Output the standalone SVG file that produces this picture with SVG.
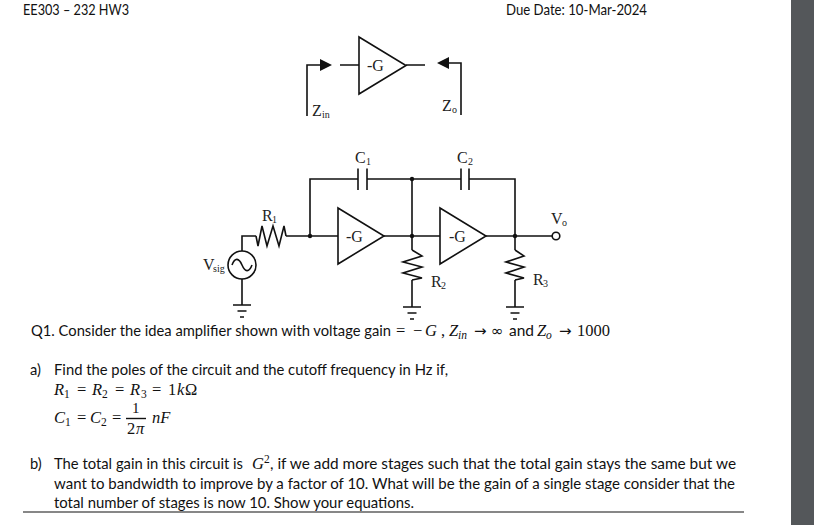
<svg xmlns="http://www.w3.org/2000/svg" width="814" height="525" viewBox="0 0 814 525">
<style>
.w{fill:none;stroke:#111;stroke-width:1.6}
.a{fill:#fff;stroke:#111;stroke-width:1.6}
.d{fill:#111}
.h{fill:#111;stroke:none}
.s{font-family:"Liberation Serif",serif;font-size:16px;fill:#222}
.u{font-family:"Liberation Serif",serif;font-size:10px;fill:#222}
.t{font-family:Lato,"Noto Sans",sans-serif;font-size:14.7px;fill:#111}
.m{font-family:"Liberation Serif",serif;font-size:16.5px;fill:#111}
.y{font-family:"DejaVu Sans",sans-serif;font-size:15px;fill:#111}
.i{font-style:italic}
.b{font-family:"Liberation Serif",serif;font-size:11.5px;fill:#111}
</style>
<defs>
<g id="gnd"><path class="w" d="M-9 0H9M-4.500 6H4.500M-2 12H2"/></g>
</defs>
<rect width="814" height="525" fill="#fff"/>
<rect x="791" width="23" height="525" fill="#54575a"/>

<g id="header">
<text class="t" x="23" y="15" textLength="106" lengthAdjust="spacingAndGlyphs">EE303 – 232 HW3</text>
<text class="t" x="506" y="15" textLength="141" lengthAdjust="spacingAndGlyphs">Due Date: 10-Mar-2024</text>
</g>

<g id="connectors">
<path class="w" d="M340 65H359M406 65H425"/>
<path class="w" d="M307 116V65H322"/>
<path class="h" d="M320 59L332 65L320 71Z"/>
<path class="w" d="M461 115V63H447"/>
<path class="h" d="M449 57L437 63L449 69Z"/>
<path class="w" d="M242 251V236H256M286 236H338M310 236V179H358M367 179H461M469 179H515V236M412 179V250M384 236H440M486 236H552M515 236V250"/>
<path class="w" d="M242 279V305M412 280V307M515 280V307"/>
</g>

<g id="amp-top"><path class="a" d="M359 37L406 65.500L359 94Z"/><text class="s" x="367" y="71">-G</text></g>
<g id="zin-label"><text class="s" x="312" y="116">Z</text><text class="u" x="322" y="118">in</text></g>
<g id="zo-label"><text class="s" x="442" y="111">Z</text><text class="u" x="452" y="113">o</text></g>

<g id="vsig">
<circle class="a" cx="242" cy="265" r="14"/>
<path class="w" d="M232 265C235 257 239 258 242 265C245 272 249 273 252 265"/>
<use href="#gnd" x="242" y="305"/>
<text class="s" x="203" y="270">V</text><text class="u" x="213" y="272">sig</text>
</g>
<g id="r1">
<path class="w" d="M256 236L258 246L262 226L267 246L273 226L279 246L284 226L286 236"/>
<text class="s" x="262" y="221">R</text><text class="u" x="272" y="223">1</text>
</g>
<g id="c1">
<path class="w" d="M358 168.500V190M367 168.500V190"/>
<text class="s" x="355" y="163">C</text><text class="u" x="366" y="165">1</text>
</g>
<g id="c2">
<path class="w" d="M461 168.500V190M469 168.500V190"/>
<text class="s" x="457" y="163">C</text><text class="u" x="468" y="165">2</text>
</g>
<g id="amp-1"><path class="a" d="M338 208L384 236L338 264Z"/><text class="s" x="346" y="242">-G</text></g>
<g id="amp-2"><path class="a" d="M440 208L486 236L440 264Z"/><text class="s" x="449" y="242">-G</text></g>
<g id="r2">
<path class="w" d="M412 250L422 256L403 262L422 267L403 273L422 278L412 280"/>
<use href="#gnd" x="412" y="307"/>
<text class="s" x="431" y="287">R</text><text class="u" x="441" y="289">2</text>
</g>
<g id="r3">
<path class="w" d="M515 250L524 256L506 262L524 267L506 273L524 278L515 280"/>
<use href="#gnd" x="515" y="307"/>
<text class="s" x="533" y="285">R</text><text class="u" x="543" y="287">3</text>
</g>
<g id="vo">
<circle class="a" cx="556" cy="236" r="3.800"/>
<text class="s" x="551" y="224">V</text><text class="u" x="562" y="226">o</text>
</g>
<g id="nodes">
<circle class="d" cx="310" cy="236" r="2.200"/>
<circle class="d" cx="412" cy="179" r="2.200"/>
<circle class="d" cx="412" cy="236" r="2.200"/>
<circle class="d" cx="515" cy="236" r="2.200"/>
</g>

<g id="question">
<text class="t" x="31" y="336" textLength="360" lengthAdjust="spacingAndGlyphs">Q1. Consider the idea amplifier shown with voltage gain</text>
<text class="m" x="396" y="336">=</text>
<text class="m" x="413" y="336">−</text><text class="m i" x="425" y="336">G</text>
<text class="m" x="441" y="336">,</text>
<text class="m i" x="449" y="336">Z</text><text class="b i" x="458" y="339">in</text>
<text class="y" x="474" y="336">→</text>
<text class="y" x="491" y="336">∞</text>
<text class="t" x="509" y="336" textLength="25" lengthAdjust="spacingAndGlyphs">and</text>
<text class="m i" x="537" y="336">Z</text><text class="b i" x="546" y="339">o</text>
<text class="y" x="559" y="336">→</text>
<text class="m" x="577" y="336">1000</text>
</g>

<g id="part-a">
<text class="t" x="30" y="375">a)</text>
<text class="t" x="54" y="375" textLength="394" lengthAdjust="spacingAndGlyphs">Find the poles of the circuit and the cutoff frequency in Hz if,</text>
<text class="m i" x="54" y="395">R</text><text class="b" x="64" y="398">1</text>
<text class="m" x="77" y="395">=</text>
<text class="m i" x="92" y="395">R</text><text class="b" x="102" y="398">2</text>
<text class="m" x="115" y="395">=</text>
<text class="m i" x="130" y="395">R</text><text class="b" x="141" y="398">3</text>
<text class="m" x="152" y="395">=</text>
<text class="m" x="168" y="395">1</text><text class="m i" x="177" y="395">k</text><text class="m" x="185" y="395">Ω</text>
<text class="m i" x="54" y="423">C</text><text class="b" x="65" y="426">1</text>
<text class="m" x="77" y="423">=</text>
<text class="m i" x="90" y="423">C</text><text class="b" x="101" y="426">2</text>
<text class="m" x="112" y="423">=</text>
<text class="m" x="132" y="413" font-size="15" style="font-size:15px">1</text>
<path d="M126 418.500H146" stroke="#111" stroke-width="1.400" fill="none"/>
<text class="m" x="127" y="434">2</text><text class="m i" x="136" y="434">π</text>
<text class="m i" x="152" y="423">nF</text>
</g>

<g id="part-b">
<text class="t" x="30" y="469">b)</text>
<text class="t" x="54" y="469" textLength="189" lengthAdjust="spacingAndGlyphs">The total gain in this circuit is</text>
<text class="m i" x="252" y="469">G</text><text class="b" x="264" y="463">2</text>
<text class="t" x="270" y="469" textLength="466" lengthAdjust="spacingAndGlyphs">, if we add more stages such that the total gain stays the same but we</text>
<text class="t" x="54" y="489" textLength="681" lengthAdjust="spacingAndGlyphs">want to bandwidth to improve by a factor of 10. What will be the gain of a single stage consider that the</text>
<text class="t" x="54" y="508" textLength="360" lengthAdjust="spacingAndGlyphs">total number of stages is now 10. Show your equations.</text>
<path d="M23 512H744" stroke="#111" stroke-width="1.200" fill="none"/>
</g>
</svg>
